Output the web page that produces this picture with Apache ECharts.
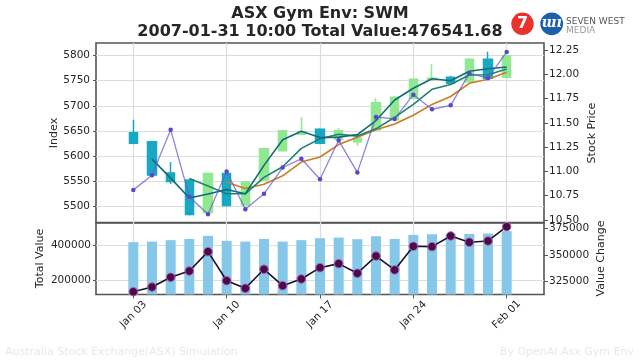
<!DOCTYPE html>
<html><head><meta charset="utf-8">
<script src="https://cdn.jsdelivr.net/npm/echarts@6/dist/echarts.min.js"></script>
<style>html,body{margin:0;padding:0;background:#fff}#c{width:640px;height:360px}</style>
</head><body><div id="c"></div>
<script>
const dates = ['Jan 03','Jan 04','Jan 05','Jan 08','Jan 09','Jan 10','Jan 11','Jan 12','Jan 15','Jan 16','Jan 17','Jan 18','Jan 19','Jan 22','Jan 23','Jan 24','Jan 25','Jan 29','Jan 30','Jan 31','Feb 01'];
const dateTicks = ['Jan 03','Jan 10','Jan 17','Jan 24','Feb 01'];
const openV  = [5646,5628,5566,5552,5487,5565,5502,5552,5610,5643,5653,5633,5628,5652,5672,5715,5752,5757,5748,5793,5757];
const closeV = [5625,5562,5549,5483,5565,5501,5548,5614,5650,5648,5625,5650,5635,5706,5717,5753,5755,5745,5793,5755,5800];
const lowV   = [5623,5560,5544,5481,5484,5499,5500,5550,5608,5641,5623,5625,5620,5650,5670,5713,5750,5742,5746,5752,5755];
const highV  = [5672,5630,5588,5553,5567,5568,5550,5615,5652,5677,5655,5655,5642,5715,5719,5755,5783,5760,5795,5808,5802];
const ma2 = [null,5593.5,5555.5,5516,5524,5533,5524.5,5581,5632,5649,5636.5,5637.5,5642.5,5670.5,5711.5,5735,5754,5750,5769,5774,5777.5];
const ma4 = [null,null,null,5554.8,5539.8,5524.5,5524.3,5557,5578.3,5615,5634.3,5643.3,5639.5,5654,5677,5702.8,5732.8,5742.5,5761.5,5762,5773.3];
const ma6 = [null,null,null,null,null,5547.5,5534.7,5543.3,5560.2,5587.7,5597.7,5622.5,5637,5652.3,5663.5,5681,5702.7,5718.5,5744.8,5753,5766.8];
const price = [10.81,10.96,11.43,10.74,10.56,11.0,10.61,10.77,11.04,11.13,10.92,11.32,10.99,11.56,11.54,11.79,11.64,11.68,12.01,11.96,12.23];
const totalValue = [415000,418000,426000,433000,450000,422000,418000,433000,418000,426000,437000,440500,431500,448000,433000,455500,459000,460000,461000,463000,476542];
const valueChange = [315600,320000,329100,335000,353100,325900,318800,336600,321300,327500,338100,341900,332900,349000,336000,358100,357800,367800,361900,363100,376500];
const indexTicks = [5500,5550,5600,5650,5700,5750,5800];
const priceTicks = [10.5,10.75,11.0,11.25,11.5,11.75,12.0,12.25];
const totalTicks = [200000,400000];
const changeTicks = [325000,350000,375000];

const padCats = ['p0','p1', ...dates, 'p2','p3'];
const pad = a => ['-','-', ...a.map(v => v == null ? '-' : v), '-','-'];
const candle = ['-','-'].map(()=>['-','-','-','-'])
  .concat(dates.map((d,i)=>[openV[i],closeV[i],lowV[i],highV[i]]))
  .concat([['-','-','-','-'],['-','-','-','-']]);
const showTick = (idx, val) => dateTicks.indexOf(val) >= 0;

const FONT = 'DejaVu Sans';
const TXT = '#262626';
const gridLine = {show:true, interval:showTick, lineStyle:{color:'#dcdcdc', width:1.2}};
const ySplit = {show:true, lineStyle:{color:'#dcdcdc', width:1.2}};
const lbl = {color:TXT, fontFamily:FONT, fontSize:10.5};
const nameStyle = {color:TXT, fontFamily:FONT, fontSize:11};
const plain = v => String(v);

const chart = echarts.init(document.getElementById('c'), null, {renderer:'canvas'});
chart.setOption({
  animation:false,
  backgroundColor:'#fff',
  title:{text:'ASX Gym Env: SWM\n2007-01-31 10:00 Total Value:476541.68', left:'center', top:0,
    textStyle:{fontFamily:FONT, fontSize:16, fontWeight:'bold', color:TXT, lineHeight:18}},
  grid:[
    {left:96, right:96, top:43, height:180, show:true, borderColor:'#555', borderWidth:1.6},
    {left:96, right:96, top:222.5, height:72, show:true, borderColor:'#555', borderWidth:1.6}
  ],
  xAxis:[
    {gridIndex:0, type:'category', data:padCats, boundaryGap:false,
     axisLine:{show:false}, axisTick:{show:false}, axisLabel:{show:false}, splitLine:gridLine},
    {gridIndex:1, type:'category', data:padCats, boundaryGap:false,
     axisLine:{show:false}, axisTick:{show:true, interval:showTick, length:4, lineStyle:{color:'#555'}},
     axisLabel:Object.assign({show:true, interval:showTick, rotate:45, align:'center', verticalAlign:'middle', margin:20}, lbl),
     splitLine:gridLine}
  ],
  yAxis:[
    {gridIndex:0, type:'value', position:'left', min:5466, max:5825.3, name:'Index', nameLocation:'middle', nameGap:36, nameMoveOverlap:false, nameTextStyle:nameStyle,
     axisLine:{show:false}, axisTick:{show:true, length:3, customValues:indexTicks, lineStyle:{color:'#555'}},
     axisLabel:Object.assign({customValues:indexTicks, margin:6, formatter:plain}, lbl), splitLine:ySplit},
    {gridIndex:0, type:'value', position:'right', min:10.469, max:12.322, name:'Stock Price', nameLocation:'middle', nameGap:43, nameMoveOverlap:false, nameTextStyle:nameStyle,
     axisLine:{show:false}, axisTick:{show:true, length:4, customValues:priceTicks, lineStyle:{color:'#555'}},
     axisLabel:Object.assign({customValues:priceTicks, margin:5, formatter:v=>v.toFixed(2)}, lbl), splitLine:{show:false}},
    {gridIndex:1, type:'value', position:'left', min:121600, max:524900, name:'Total Value', nameLocation:'middle', nameGap:50, nameMoveOverlap:false, nameTextStyle:nameStyle,
     axisLine:{show:false}, axisTick:{show:true, length:3, customValues:totalTicks, lineStyle:{color:'#555'}},
     axisLabel:Object.assign({customValues:totalTicks, margin:5, formatter:plain}, lbl), splitLine:ySplit},
    {gridIndex:1, type:'value', position:'right', min:313000, max:380400, name:'Value Change', nameLocation:'middle', nameGap:52, nameMoveOverlap:false, nameTextStyle:nameStyle,
     axisLine:{show:false}, axisTick:{show:true, length:4, customValues:changeTicks, lineStyle:{color:'#555'}},
     axisLabel:Object.assign({customValues:changeTicks, margin:5, formatter:plain}, lbl), splitLine:{show:false}}
  ],
  series:[
    {type:'candlestick', xAxisIndex:0, yAxisIndex:0, data:candle, barWidth:9, z:2,
     itemStyle:{color:'#90e890', color0:'#17a9c2', borderColor:'#90e890', borderColor0:'#17a9c2', borderWidth:1.5}},
    {type:'line', xAxisIndex:0, yAxisIndex:0, data:pad(ma6), symbol:'none', z:3, lineStyle:{color:'#cc7a22', width:1.6}},
    {type:'line', xAxisIndex:0, yAxisIndex:0, data:pad(ma4), symbol:'none', z:3, lineStyle:{color:'#1e8272', width:1.6}},
    {type:'line', xAxisIndex:0, yAxisIndex:0, data:pad(ma2), symbol:'none', z:3, lineStyle:{color:'#13697a', width:1.6}},
    {type:'line', xAxisIndex:0, yAxisIndex:1, data:pad(price), symbol:'circle', symbolSize:4.5, z:4,
     lineStyle:{color:'rgba(106,90,205,0.75)', width:1.3}, itemStyle:{color:'#5b45d0'}},
    {type:'bar', xAxisIndex:1, yAxisIndex:2, data:pad(totalValue), barWidth:10, z:2, itemStyle:{color:'#85c8ea'}},
    {type:'line', xAxisIndex:1, yAxisIndex:3, data:pad(valueChange), symbol:'circle', symbolSize:8.5, z:4,
     lineStyle:{color:'#1a1030', width:1.6}, itemStyle:{color:'#4a0a4c', borderColor:'#b85ea8', borderWidth:1}}
  ],
  graphic:[
    {type:'circle', shape:{cx:522.5, cy:23.8, r:11.2}, style:{fill:'#e8322b'}},
    {type:'text', x:522.5, y:24, style:{text:'7', fill:'#fff', font:'bold 16px DejaVu Sans', align:'center', verticalAlign:'middle'}},
    {type:'circle', shape:{cx:551.7, cy:23.8, r:11.4}, style:{fill:'#1d5fa8'}},
    {type:'text', x:551.7, y:23, style:{text:'ɯı', fill:'#fff', font:'italic bold 14px DejaVu Serif', align:'center', verticalAlign:'middle'}},
    {type:'text', x:566, y:22, style:{text:'SEVEN WEST', fill:'#555', font:'9px DejaVu Sans', align:'left', verticalAlign:'middle'}},
    {type:'text', x:566, y:31, style:{text:'MEDIA', fill:'#999', font:'9px DejaVu Sans', align:'left', verticalAlign:'middle'}},
    {type:'text', x:5, y:352, style:{text:'Australia Stock Exchange(ASX) Simulation', fill:'#e8e8e8', font:'11px DejaVu Sans', align:'left', verticalAlign:'middle'}},
    {type:'text', x:634, y:352, style:{text:'By OpenAI Asx Gym Env', fill:'#e8e8e8', font:'11px DejaVu Sans', align:'right', verticalAlign:'middle'}}
  ]
});
</script></body></html>
